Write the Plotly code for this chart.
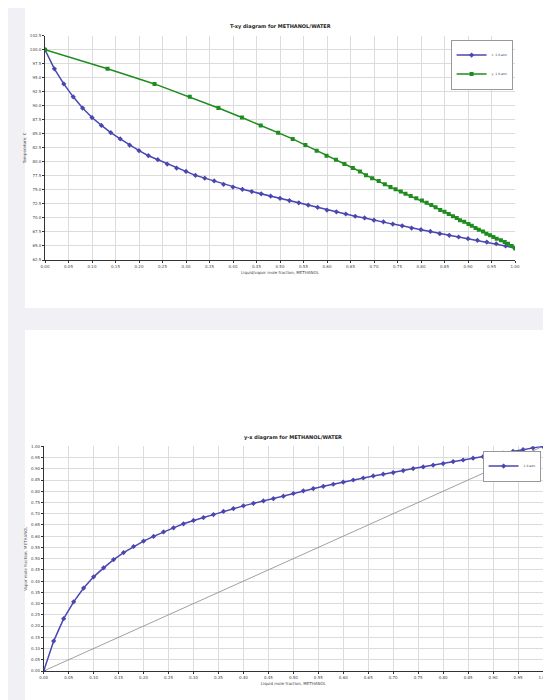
import plotly.graph_objects as go

x_liq = [round(0.02*i, 2) for i in range(51)]
T = [100.0, 96.6, 93.9, 91.6, 89.6, 87.9, 86.5, 85.2, 84.1, 83.0, 82.0, 81.1, 80.4, 79.6, 78.9, 78.3,
     77.6, 77.1, 76.6, 76.0, 75.5, 75.1, 74.7, 74.3, 73.9, 73.5, 73.1, 72.7, 72.3, 71.9, 71.4,
     71.1, 70.7, 70.3, 70.0, 69.6, 69.3, 68.9, 68.6, 68.2, 67.9, 67.6, 67.2, 66.9, 66.6, 66.3,
     66.0, 65.7, 65.4, 65.0, 64.6]
y_vap = [0.0, 0.133, 0.233, 0.308, 0.369, 0.419, 0.459, 0.496, 0.527, 0.554, 0.578, 0.599, 0.619,
         0.637, 0.655, 0.670, 0.683, 0.696, 0.710, 0.723, 0.735, 0.746, 0.757, 0.767, 0.778, 0.790,
         0.802, 0.812, 0.822, 0.831, 0.841, 0.850, 0.859, 0.868, 0.876, 0.883, 0.892, 0.901, 0.908,
         0.916, 0.923, 0.932, 0.939, 0.947, 0.954, 0.961, 0.970, 0.978, 0.985, 0.993, 1.0]
diag = [0.0, 1.0]

blue = "#4a48b0"
green = "#1e8c1e"
W, H = 551, 700

fig = go.Figure()
fig.add_trace(go.Scatter(x=x_liq, y=T, mode="lines+markers", name="x, 1.0 atm",
                         line=dict(color=blue, width=1.5), marker=dict(size=4, symbol="diamond"),
                         xaxis="x", yaxis="y", legend="legend"))
fig.add_trace(go.Scatter(x=y_vap, y=T, mode="lines+markers", name="y, 1.0 atm",
                         line=dict(color=green, width=1.5), marker=dict(size=4, symbol="square"),
                         xaxis="x", yaxis="y", legend="legend"))
fig.add_trace(go.Scatter(x=diag, y=diag, mode="lines", showlegend=False,
                         line=dict(color="#888", width=0.8), xaxis="x2", yaxis="y2"))
fig.add_trace(go.Scatter(x=x_liq, y=y_vap, mode="lines+markers", name="1.0 atm",
                         line=dict(color=blue, width=1.5), marker=dict(size=4, symbol="diamond"),
                         xaxis="x2", yaxis="y2", legend="legend2"))

ax = dict(showgrid=True, gridcolor="#dcdcdc", gridwidth=0.6, showline=True, linecolor="#333",
          linewidth=0.8, mirror=False, ticks="outside", ticklen=2, tickcolor="#333",
          tickfont=dict(size=4, color="#444"), zeroline=False, automargin=False)
tf = dict(size=4, color="#444")

fig.update_layout(
    width=W, height=H, margin=dict(l=0, r=0, t=0, b=0),
    paper_bgcolor="#f1f1f5", plot_bgcolor="white", font=dict(family="DejaVu Sans"),
    xaxis=dict(ax, anchor="y", domain=[37/W, 507/W], range=[0, 1], dtick=0.05, tickformat=".2f",
               title=dict(text="Liquid/vapor mole fraction, METHANOL", font=tf, standoff=3)),
    yaxis=dict(ax, anchor="x", domain=[1-252/H, 1-27.7/H], range=[62.5, 102.5], dtick=2.5, tickformat=".1f",
               title=dict(text="Temperature, C", font=tf, standoff=3)),
    xaxis2=dict(ax, anchor="y2", domain=[35.7/W, 535/W], range=[0, 1], dtick=0.05, tickformat=".2f",
                title=dict(text="Liquid mole fraction, METHANOL", font=tf, standoff=3)),
    yaxis2=dict(ax, anchor="x2", domain=[1-663/H, 1-438.3/H], range=[0, 1], dtick=0.05, tickformat=".2f",
                title=dict(text="Vapor mole fraction, METHANOL", font=tf, standoff=3)),
    legend=dict(x=505/W, y=1-32/H, xanchor="right", yanchor="top", font=dict(size=3),
                bordercolor="#555", borderwidth=0.6, bgcolor="white", itemwidth=30,
                tracegroupgap=0),
    legend2=dict(x=533/W, y=1-443/H, xanchor="right", yanchor="top", font=dict(size=3),
                 bordercolor="#555", borderwidth=0.6, bgcolor="white", itemwidth=30),
    shapes=[
        dict(type="rect", xref="paper", yref="paper", x0=17/W, x1=540/W, y0=1-300/H, y1=1.0,
             fillcolor="white", line=dict(width=0), layer="below"),
        dict(type="rect", xref="paper", yref="paper", x0=17/W, x1=540/W, y0=0, y1=1-322/H,
             fillcolor="white", line=dict(width=0), layer="below"),
    ],
    annotations=[
        dict(text="<b>T-xy diagram for METHANOL/WATER</b>", xref="paper", yref="paper",
             x=272/W, y=1-24/H, showarrow=False, font=dict(size=5, color="#222"), yanchor="bottom"),
        dict(text="<b>y-x diagram for METHANOL/WATER</b>", xref="paper", yref="paper",
             x=285/W, y=1-435/H, showarrow=False, font=dict(size=5, color="#222"), yanchor="bottom"),
    ],
)
fig.write_html("out.html")
